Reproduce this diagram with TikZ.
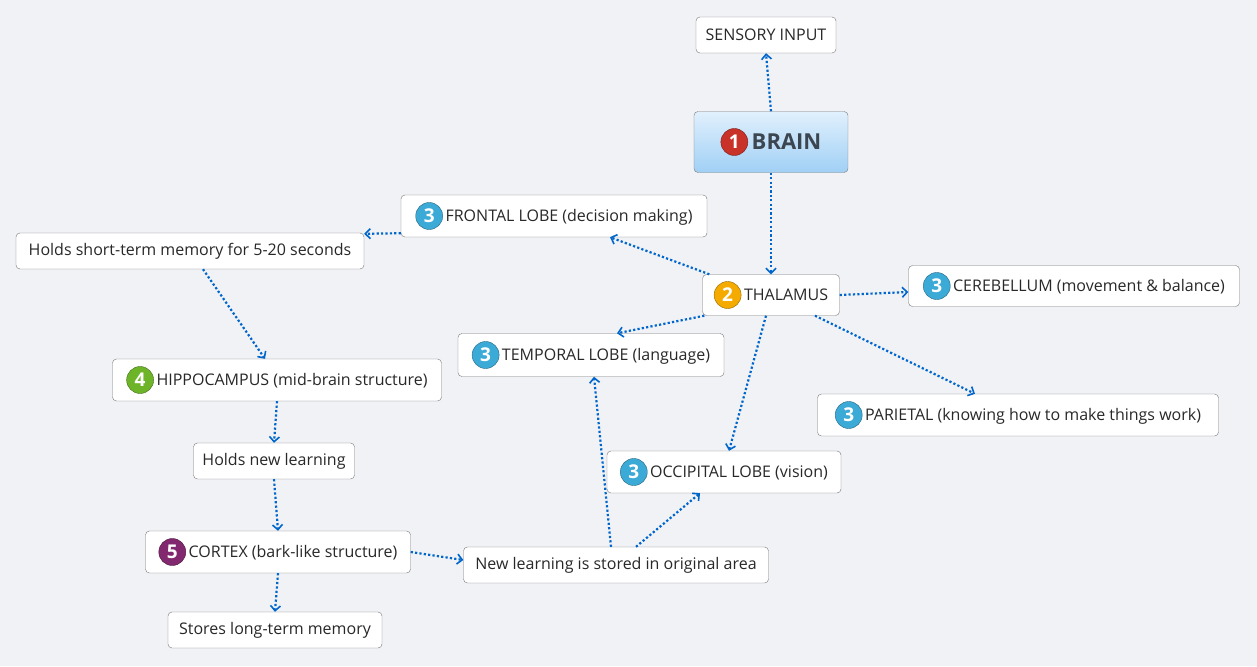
\documentclass[tikz,border=0pt]{standalone}
\usepackage{fontspec}
\setmainfont{Open Sans}
\usetikzlibrary{arrows.meta}
\definecolor{linkblue}{RGB}{0,102,204}
\definecolor{bggrey}{RGB}{240,242,246}
\definecolor{boxgrey}{RGB}{120,120,120}
\definecolor{txtgrey}{RGB}{40,40,40}
\definecolor{braintop}{RGB}{225,240,253}
\definecolor{brainbottom}{RGB}{160,208,245}
\definecolor{braintext}{RGB}{60,70,80}
\definecolor{redicon}{RGB}{200,50,40}
\definecolor{yellowicon}{RGB}{245,170,0}
\definecolor{blueicon}{RGB}{60,170,215}
\definecolor{greenicon}{RGB}{110,180,40}
\definecolor{purpleicon}{RGB}{130,40,110}
\newcommand{\numicon}[2]{\tikz[baseline=-0.6ex]\node[circle, fill=#2, draw=#2!60!black, inner sep=0pt, minimum size=27pt, text=white, font=\bfseries\fontsize{19}{19}\selectfont] {#1};}
\begin{document}
\begin{tikzpicture}[x=1pt, y=-1pt,
    topic/.style={draw=boxgrey, rounded corners=4pt, fill=white, text=txtgrey, inner sep=0pt, font=\fontsize{16}{18}\selectfont},
    central/.style={topic, top color=braintop, bottom color=brainbottom, font=\bfseries\fontsize{22}{24}\selectfont, text=braintext},
    link/.style={linkblue, line width=2.2pt, dash pattern=on 2.2pt off 2.2pt, -{Straight Barb[length=5pt, width=10pt, line width=1.6pt]}}]

      \fill[bggrey] (0,0) rectangle (1257,666);

      % nodes
      \node[topic, minimum width=140pt, minimum height=36pt] (sensory) at (766,35) {SENSORY INPUT};
      \node[central, minimum width=154pt, minimum height=61pt] (brain) at (771,142) {\numicon{1}{redicon}\,BRAIN};
      \node[topic, minimum width=306pt, minimum height=42pt] (frontal) at (554,216) {\numicon{3}{blueicon}\,FRONTAL LOBE (decision making)};
      \node[topic, minimum width=348pt, minimum height=36pt] (shortterm) at (190,251) {Holds short-term memory for 5-20 seconds};
      \node[topic, minimum width=137pt, minimum height=41pt] (thalamus) at (771,295) {\numicon{2}{yellowicon}\,THALAMUS};
      \node[topic, minimum width=331pt, minimum height=41pt] (cerebellum) at (1074,286) {\numicon{3}{blueicon}\,CEREBELLUM (movement \& balance)};
      \node[topic, minimum width=266pt, minimum height=43pt] (temporal) at (591,355) {\numicon{3}{blueicon}\,TEMPORAL LOBE (language)};
      \node[topic, minimum width=329pt, minimum height=42pt] (hippo) at (277,380) {\numicon{4}{greenicon}\,HIPPOCAMPUS (mid-brain structure)};
      \node[topic, minimum width=401pt, minimum height=42pt] (parietal) at (1018,415) {\numicon{3}{blueicon}\,PARIETAL (knowing how to make things work)};
      \node[topic, minimum width=161pt, minimum height=36pt] (newlearn) at (274,461) {Holds new learning};
      \node[topic, minimum width=234pt, minimum height=42pt] (occipital) at (724,472) {\numicon{3}{blueicon}\,OCCIPITAL LOBE (vision)};
      \node[topic, minimum width=265pt, minimum height=42pt] (cortex) at (278,552) {\numicon{5}{purpleicon}\,CORTEX (bark-like structure)};
      \node[topic, minimum width=305pt, minimum height=36pt] (stored) at (616,565) {New learning is stored in original area};
      \node[topic, minimum width=214pt, minimum height=36pt] (longterm) at (275,630) {Stores long-term memory};

      % links
      \draw[link] (brain.north) -- (sensory.south);
      \draw[link] (brain.south) -- (thalamus.north);
      \draw[link] ([xshift=7pt]thalamus.north west) -- ([xshift=56pt]frontal.south);
      \draw[link] ([yshift=4pt]frontal.south west) -- ([yshift=-1pt]shortterm.north east);
      \draw[link] ([xshift=13pt]shortterm.south) -- ([xshift=-12pt]hippo.north);
      \draw[link] (hippo.south) -- (newlearn.north);
      \draw[link] (newlearn.south) -- (cortex.north);
      \draw[link] (cortex.south) -- (longterm.north);
      \draw[link] (cortex.east) -- ([yshift=5pt]stored.west);
      \draw[link] ([xshift=-5pt]stored.north) -- ([xshift=3pt]temporal.south);
      \draw[link] ([xshift=20pt]stored.north) -- ([xshift=-24pt]occipital.south);
      \draw[link] ([xshift=-5pt]thalamus.south) -- ([xshift=5pt]occipital.north);
      \draw[link] ([xshift=2pt]thalamus.south west) -- ([xshift=26pt]temporal.north);
      \draw[link] (thalamus.east) -- ([yshift=-6pt]cerebellum.west);
      \draw[link] ([xshift=44pt]thalamus.south) -- ([xshift=-43pt]parietal.north);
    \end{tikzpicture}
\end{document}
